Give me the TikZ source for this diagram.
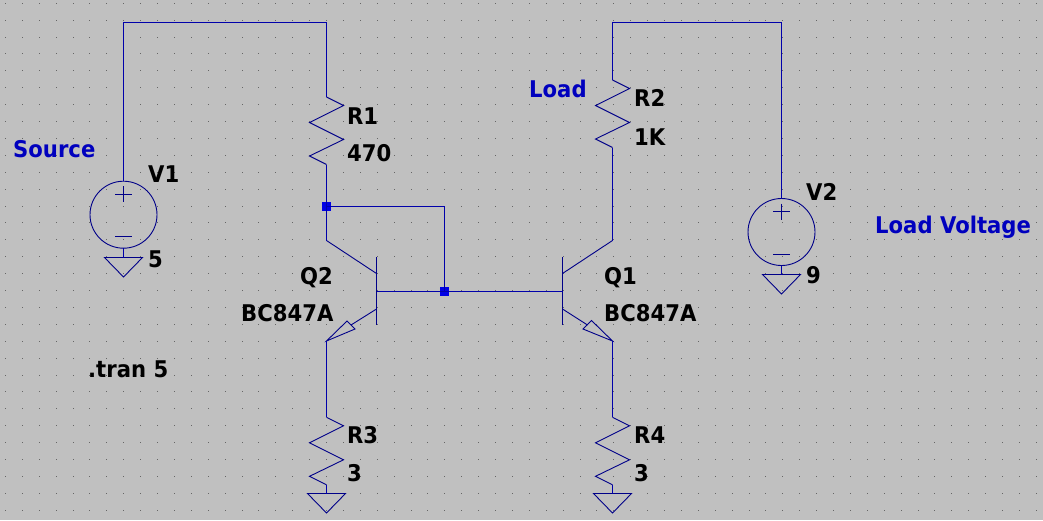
\documentclass[tikz,border=0pt]{standalone}
\usepackage{fontspec}
\setmainfont{DejaVu Sans}[FakeStretch=0.92]
\definecolor{wireblue}{RGB}{0,0,170}
\definecolor{textblue}{RGB}{0,0,190}
\definecolor{sheet}{RGB}{192,192,192}
\tikzset{
	wire/.style={wireblue,line width=1.1pt},
	part/.style={wireblue!80!black,line width=0.9pt,line join=miter},
	joint/.style={rectangle,fill=blue!90!black,minimum size=9pt,inner sep=0pt},
	tag/.style={anchor=base west,inner sep=0pt,font=\bfseries\fontsize{23}{26}\selectfont,text=black},
	remark/.style={tag,text=textblue},
	pics/res/.style={code={
		\coordinate (-top) at (0,0);
		\coordinate (-bot) at (0,67.5);
		\draw[part] (-top) -- (17,8.5) -- (-17,25.5) -- (17,42.5) -- (-17,59) -- (-bot);
	}},
	pics/gnd/.style={code={
		\coordinate (-top) at (0,0);
		\draw[part] (-19,0) -- (19,0) -- (0,19.5) -- cycle;
	}},
	pics/vsrc/.style={code={
		\coordinate (-top) at (0,-33.5);
		\coordinate (-bot) at (0,33.5);
		\draw[part] (0,0) circle (33.5);
		\draw[part] (-8.5,-20.5) -- (8.5,-20.5) (0,-28.5) -- (0,-12.5);
		\draw[part] (-8.5,22) -- (8.5,22);
	}},
}
\begin{document}
\begin{tikzpicture}[x=1pt,y=-1pt]
	\useasboundingbox (0,0) rectangle (1043,520);
	\fill[sheet] (0,0) rectangle (1043,520);
	% grid
	\foreach \i in {0,...,61}
		\foreach \j in {0,...,30}
			\fill[black!60] ({5.4+16.9*\i-0.5},{3.2+16.9*\j-0.5}) rectangle +(1,1);

	% sources and ground
	\pic (V1) at (123.5,214.7) {vsrc};
	\pic (V2) at (781.5,232) {vsrc};
	\pic (G1) at (123.5,257.5) {gnd};
	\pic (G2) at (781.5,274.5) {gnd};
	\pic (G3) at (326.5,493.5) {gnd};
	\pic (G4) at (612.5,493.5) {gnd};

	% resistors
	\pic (R1) at (326.5,97) {res};
	\pic (R2) at (612.5,80) {res};
	\pic (R3) at (326.5,417.3) {res};
	\pic (R4) at (612.5,417.3) {res};

	% corners
	\coordinate (topa) at (123.5,22.5);
	\coordinate (topb) at (326.5,22.5);
	\coordinate (topc) at (612.5,22.5);
	\coordinate (topd) at (781.5,22.5);
	\coordinate (cornr) at (444.5,206.5);

	% transistors
	\coordinate (Q2b) at (376.5,291.5);
	\coordinate (Q2c) at (326.5,240.5);
	\coordinate (Q2e) at (326.5,341);
	\coordinate (Q1b) at (562.5,291.5);
	\coordinate (Q1c) at (612.5,240.5);
	\coordinate (Q1e) at (612.5,341);
	\draw[part] (376.5,257) -- (376.5,325);
	\draw[part] (562.5,257) -- (562.5,325);
	\draw[part] (376.5,273.5) -- (Q2c);
	\draw[part] (562.5,273.5) -- (Q1c);
	\draw[part] (376.5,309) -- (351,325);
	\draw[part] (562.5,309) -- (587.5,325);
	\draw[part] (Q2e) -- (347,321) -- (355,329) -- cycle;
	\draw[part] (Q1e) -- (591.5,320.5) -- (583,329) -- cycle;

	% junctions
	\node[joint] (J1) at (326.5,206.5) {};
	\node[joint] (J2) at (444.5,291.5) {};

	% wires
	\draw[wire] (V1-top) -- (topa) -- (topb) -- (R1-top);
	\draw[wire] (R1-bot) -- (J1.center) -- (Q2c);
	\draw[wire] (J1.center) -- (cornr) -- (J2.center);
	\draw[wire] (Q2b) -- (Q1b);
	\draw[wire] (V2-top) -- (topd) -- (topc) -- (R2-top);
	\draw[wire] (R2-bot) -- (Q1c);
	\draw[wire] (Q2e) -- (R3-top);
	\draw[wire] (Q1e) -- (R4-top);
	\draw[wire] (V1-bot) -- (G1-top);
	\draw[wire] (V2-bot) -- (G2-top);
	\draw[wire] (R3-bot) -- (G3-top);
	\draw[wire] (R4-bot) -- (G4-top);

	% labels
	\node[remark] (lsrc) at (13,157) {Source};
	\node[remark] (lload) at (529,97) {Load};
	\node[remark] (lvolt) at (875,233) {Load Voltage};
	\node[tag] (ltran) at (88,377) {.tran 5};
	\node[tag] (nV1) at (148,182) {V1};
	\node[tag] (vV1) at (148,267) {5};
	\node[tag] (nV2) at (806,200) {V2};
	\node[tag] (vV2) at (806,283) {9};
	\node[tag] (nR1) at (347,124) {R1};
	\node[tag] (vR1) at (347,161) {470};
	\node[tag] (nR2) at (634,106) {R2};
	\node[tag] (vR2) at (634,145) {1K};
	\node[tag] (nR3) at (347,443) {R3};
	\node[tag] (vR3) at (347,481) {3};
	\node[tag] (nR4) at (634,443) {R4};
	\node[tag] (vR4) at (634,481) {3};
	\node[tag] (nQ2) at (300,284) {Q2};
	\node[tag] (vQ2) at (241,321) {BC847A};
	\node[tag] (nQ1) at (604,284) {Q1};
	\node[tag] (vQ1) at (604,321) {BC847A};
\end{tikzpicture}
\end{document}
